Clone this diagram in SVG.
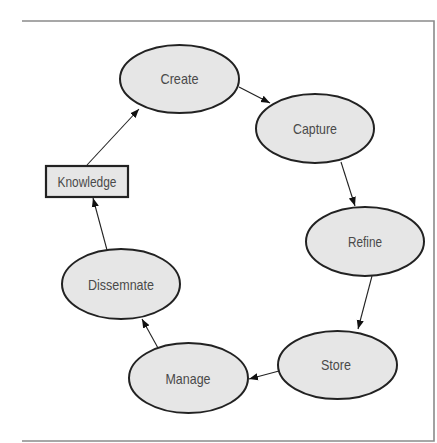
<svg xmlns="http://www.w3.org/2000/svg" width="437" height="443" viewBox="0 0 437 443">
<style>
.node ellipse{fill:#e6e6e6;stroke:#222;stroke-width:2}
.node rect{fill:#e6e6e6;stroke:#222;stroke-width:2.2}
.node text{font-family:"Liberation Sans",Arial,sans-serif;font-size:14.5px;fill:#4a4a4a;text-anchor:middle;dominant-baseline:central}
.edges line{stroke:#222;stroke-width:1.1;marker-end:url(#ah)}
.frame{fill:none;stroke:#8a8a8a;stroke-width:1.6}
</style>
<defs>
<marker id="ah" viewBox="0 0 10 10" refX="10" refY="5" markerWidth="9" markerHeight="9" markerUnits="userSpaceOnUse" orient="auto">
<path d="M0,1 L10,5 L0,9 Z" fill="#111"/>
</marker>
</defs>
<rect width="437" height="443" fill="#fff"/>
<polyline class="frame" points="22,21 434,21 434,441 22,441"/>
<g class="edges">
<line x1="239" y1="87" x2="270" y2="103"/>
<line x1="341" y1="162" x2="355" y2="206"/>
<line x1="372" y1="276" x2="358" y2="329"/>
<line x1="279" y1="371" x2="249" y2="379"/>
<line x1="158" y1="348" x2="142" y2="319"/>
<line x1="107" y1="250" x2="93" y2="198"/>
<line x1="87" y1="165" x2="139" y2="109"/>
</g>
<g id="create" class="node"><ellipse cx="179.5" cy="79" rx="59.5" ry="34"/><text x="179.5" y="79" textLength="38" lengthAdjust="spacingAndGlyphs">Create</text></g>
<g id="capture" class="node"><ellipse cx="315" cy="128.5" rx="59" ry="34.5"/><text x="315" y="129" textLength="44" lengthAdjust="spacingAndGlyphs">Capture</text></g>
<g id="refine" class="node"><ellipse cx="365" cy="241.5" rx="59" ry="34.5"/><text x="365" y="241.5" textLength="34" lengthAdjust="spacingAndGlyphs">Refine</text></g>
<g id="store" class="node"><ellipse cx="337.5" cy="365" rx="59.5" ry="34"/><text x="336" y="365" textLength="30" lengthAdjust="spacingAndGlyphs">Store</text></g>
<g id="manage" class="node"><ellipse cx="188.5" cy="378" rx="59.5" ry="35"/><text x="188" y="379" textLength="45" lengthAdjust="spacingAndGlyphs">Manage</text></g>
<g id="dissemnate" class="node"><ellipse cx="121" cy="284" rx="59" ry="35"/><text x="121" y="284.5" textLength="66" lengthAdjust="spacingAndGlyphs">Dissemnate</text></g>
<g id="knowledge" class="node"><rect x="46" y="166" width="82" height="31"/><text x="87" y="182" textLength="59" lengthAdjust="spacingAndGlyphs">Knowledge</text></g>
</svg>
